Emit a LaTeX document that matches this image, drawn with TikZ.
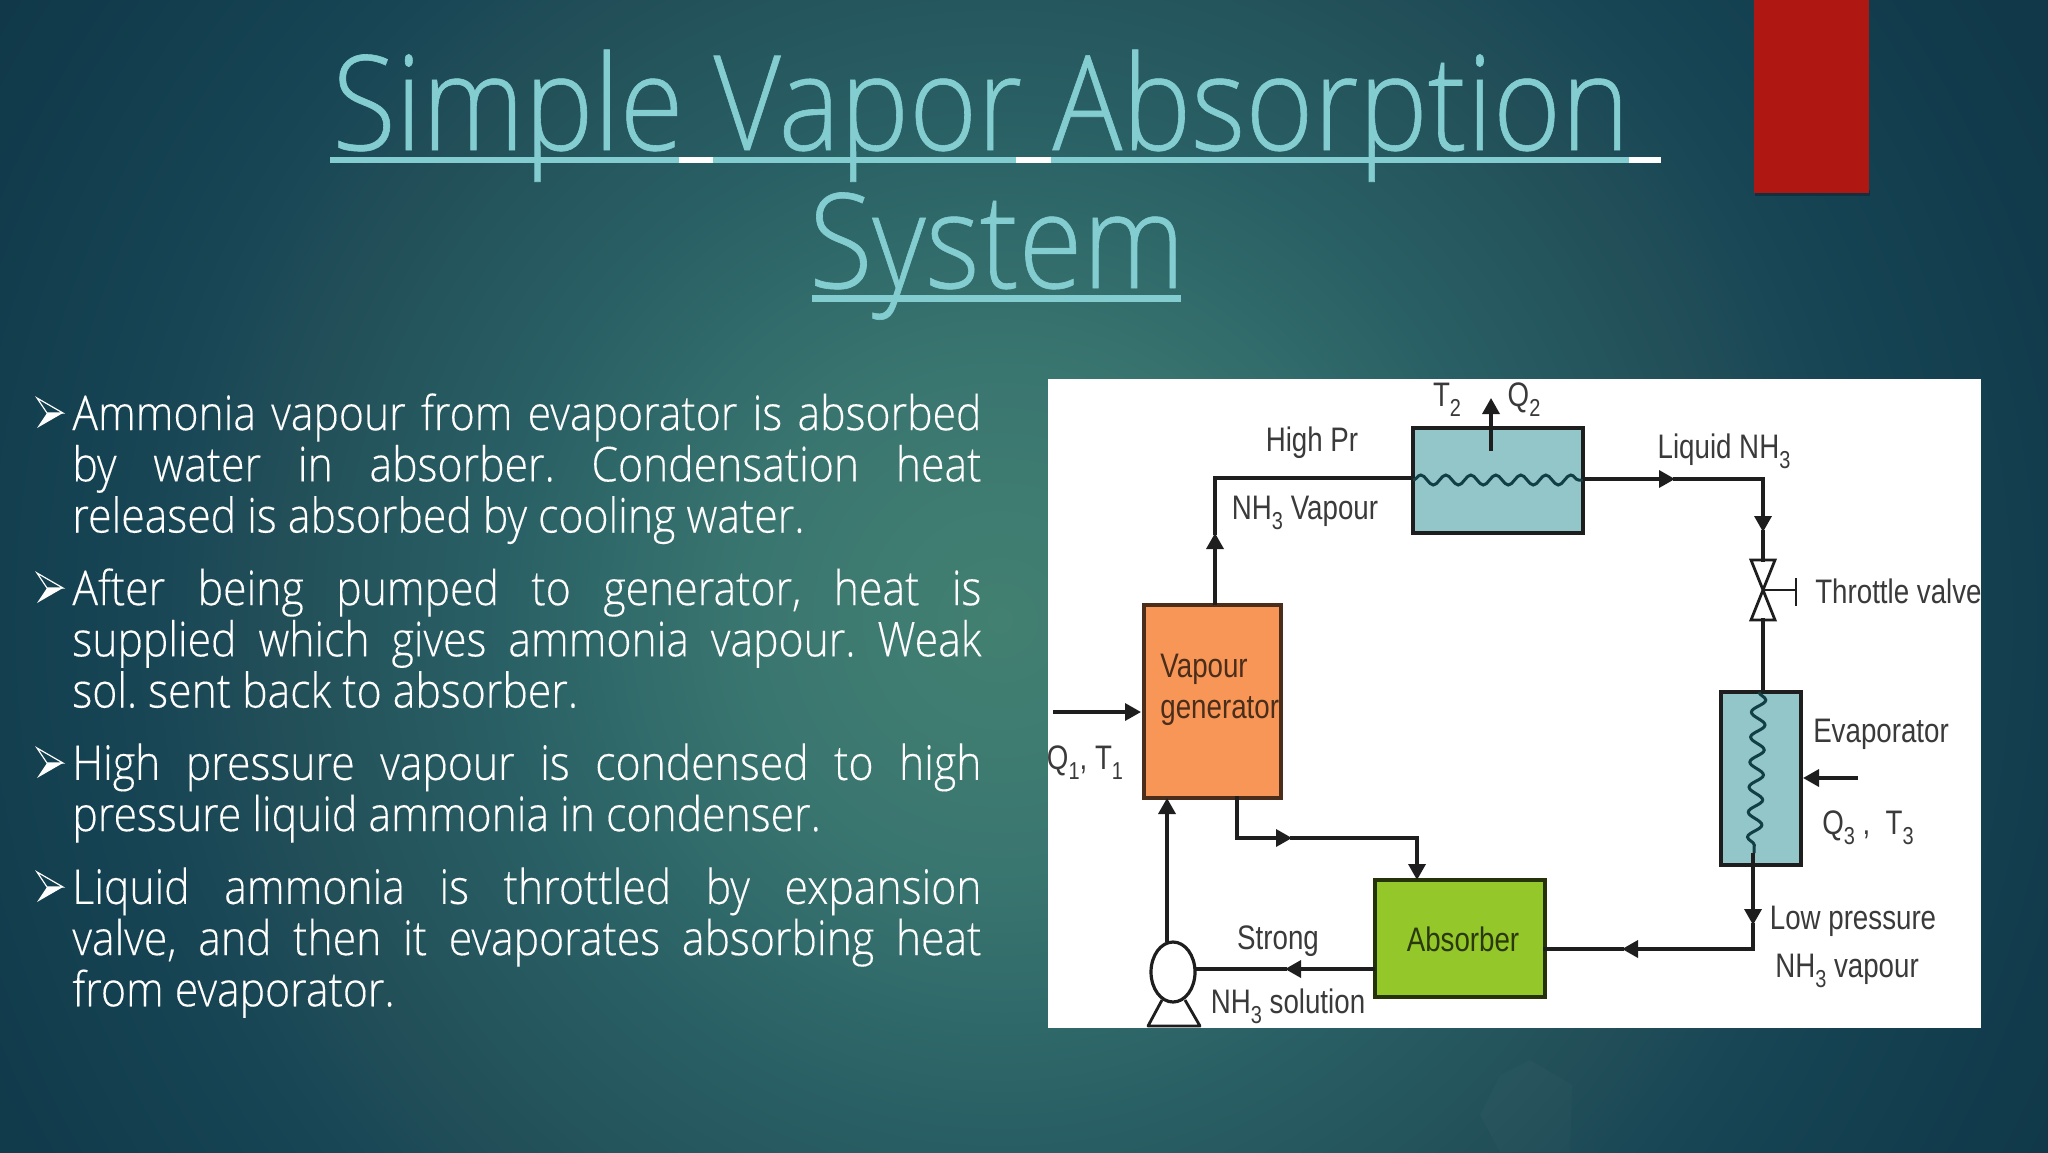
\documentclass[tikz,border=0pt]{standalone}
\usepackage{fontspec}
\usetikzlibrary{arrows.meta,decorations.pathmorphing,calc,shapes.geometric}
\newfontfamily\bodyfont{Open Sans Light}[FakeStretch=0.89,FakeBold=0.25]
\newfontfamily\titlefont{Open Sans Light}[FakeStretch=0.88,FakeBold=0.45]
\newfontfamily\labelfont{Liberation Sans}[FakeStretch=0.815]
\definecolor{bgA}{HTML}{428071}
\definecolor{bgB}{HTML}{3A7670}
\definecolor{bgC}{HTML}{296065}
\definecolor{bgD}{HTML}{224F58}
\definecolor{bgE}{HTML}{184655}
\definecolor{bgF}{HTML}{133F4F}
\definecolor{bgG}{HTML}{103849}
\definecolor{barshadow}{HTML}{123040}
\definecolor{titlecol}{HTML}{83CDD0}
\definecolor{redbar}{HTML}{AE1712}
\definecolor{tealbox}{HTML}{93C6C8}
\definecolor{orangebox}{HTML}{F79656}
\definecolor{greenbox}{HTML}{94C82A}
\definecolor{pipecol}{HTML}{1E1E1E}
\definecolor{coilcol}{HTML}{123F45}
\definecolor{labelcol}{HTML}{3A3A3A}
% radial shadings reach the path's edge at 25bp
\pgfdeclareradialshading{bgglow}{\pgfpoint{0bp}{0bp}}{color(0bp)=(bgA); color(5bp)=(bgB); color(10bp)=(bgC); color(14.4bp)=(bgD); color(17bp)=(bgE); color(20bp)=(bgF); color(23.4bp)=(bgG); color(50bp)=(bgG)}
\newcommand{\lowsub}[1]{\raisebox{-.3em}{\scalebox{.72}{#1}}}
\newcommand{\bulletshape}[2]{%
  \fill[white] (#1+10,#2) -- (#1+26,#2) -- (#1,#2+15) -- cycle;
  \draw[white,line width=.6pt,line join=miter] (#1,#2-15) -- (#1+26,#2) -- (#1+10,#2) -- cycle;}
\tikzset{
  unit box/.style={draw=#1,line width=1.8pt,inner sep=0pt,outer sep=0pt},
  plainlabel/.style={font=\labelfont\fontsize{17}{20}\selectfont,text=labelcol,inner sep=0pt,yshift=-1.5pt},
  unitlabel/.style={font=\labelfont\fontsize{17}{20}\selectfont,inner sep=0pt,yshift=-1.5pt},
  pipe/.style={draw=pipecol,line width=1.7pt,line cap=rect},
  flow/.style={draw=pipecol,line width=1.7pt,-{Triangle[length=8pt,width=8.5pt]}},
  coil/.style={draw=coilcol,line width=1.5pt,decorate,decoration={snake,amplitude=#1,segment length=12.5pt}},
  para/.style={font=\bodyfont\fontsize{24}{25.6}\selectfont,text=white,text width=454.5pt,align=justify,inner sep=0pt,anchor=north west},
  titleline/.style={font=\titlefont\fontsize{66}{70}\selectfont,text=titlecol,inner sep=0pt,anchor=base},
}
\frenchspacing
\begin{document}
\begin{tikzpicture}[x=0.5pt,y=-0.5pt]
\useasboundingbox (0,0) rectangle (2048,1152);
\begin{scope}
\clip (0,0) rectangle (2048,1152);
\shade[shading=bgglow] (1000,620) circle (1250);
\fill[white,opacity=.018] (1530,1060) -- (1572,1085) -- (1570,1152) -- (1500,1152) -- (1480,1115) -- (1500,1075) -- cycle;
\end{scope}
% red bar
\fill[barshadow] (1755,190) rectangle (1870,196);
\fill[redbar] (1754,0) rectangle (1869,193);
% title underlines
\fill[titlecol] (330,157) rectangle (679,163);
\fill[white] (679,157) rectangle (713,163);
\fill[titlecol] (713,157) rectangle (1016,163);
\fill[white] (1016,157) rectangle (1051,163);
\fill[titlecol] (1051,157) rectangle (1629,163);
\fill[white] (1629,157) rectangle (1661,163);
\fill[titlecol] (812,295) rectangle (1181,302);
\node[titleline] (title1) at (981,150) {Simple Vapor Absorption};
\node[titleline] (title2) at (997,288) {System};
% bullets
\bulletshape{37}{413}
\bulletshape{37}{588}
\bulletshape{37}{763}
\bulletshape{37}{887}
\node[para] (p1) at (72,393) {Ammonia vapour from evaporator is absorbed\linebreak by water in absorber. Condensation heat\linebreak released is absorbed by cooling water.};
\node[para] (p2) at (72,568) {After being pumped to generator, heat is\linebreak supplied which gives ammonia vapour. Weak\linebreak sol. sent back to absorber.};
\node[para] (p3) at (72,743) {High pressure vapour is condensed to high\linebreak pressure liquid ammonia in condenser.};
\node[para] (p4) at (72,867) {Liquid ammonia is throttled by expansion\linebreak valve, and then it evaporates absorbing heat\linebreak from evaporator.};
% panel
\fill[white] (1048,379) rectangle (1981,1028);
% units
\node[unit box=pipecol,fill=tealbox,minimum width=85pt,minimum height=52.5pt] (cond) at (1498,480.5) {};
\node[unit box=black!70!orangebox,fill=orangebox,minimum width=68.5pt,minimum height=96.5pt] (gen) at (1212.5,701.5) {};
\node[unit box=pipecol,fill=tealbox,minimum width=40pt,minimum height=86.5pt] (evap) at (1761,778.5) {};
\node[unit box=black!75!greenbox,fill=greenbox,minimum width=85pt,minimum height=58.5pt] (abs) at (1460,938.5) {};
\node[draw=pipecol,line width=1.6pt,fill=white,ellipse,minimum width=22pt,minimum height=30pt,inner sep=0pt] (pump) at (1173,972) {};
% unit labels
\node[unitlabel,text=black!70!orangebox,anchor=west] (t1) at (1160,666) {Vapour};
\node[unitlabel,text=black!70!orangebox,anchor=west] (t2) at (1160,708) {generator};
\node[unitlabel,text=black!72!greenbox] (t3) at (1463,936) {Absorber};
% coordinates
\coordinate (a1) at (1215,533);
\coordinate (c1) at (1215,478);
\coordinate (coilL) at (1413,480);
\coordinate (coilR) at (1583,480);
\coordinate (q2a) at (1491,451);
\coordinate (q2b) at (1491,398);
\coordinate (a2) at (1675,479);
\coordinate (c2) at (1763,479);
\coordinate (a3) at (1763,532);
\coordinate (vtop) at (1763,560);
\coordinate (vmid) at (1763,590);
\coordinate (vbot) at (1763,620);
\coordinate (ecoilT) at (1759,692);
\coordinate (ecoilB) at (1754,853);
\coordinate (a4) at (1753,925);
\coordinate (c3) at (1753,949);
\coordinate (a5) at (1622,949);
\coordinate (a6) at (1292,838);
\coordinate (c4) at (1237,838);
\coordinate (c5) at (1417,838);
\coordinate (a7) at (1417,880);
\coordinate (a8) at (1285,969);
\coordinate (q1a) at (1053,712);
\coordinate (q1b) at (1141,712);
\coordinate (q3a) at (1858,778);
\coordinate (q3b) at (1803,778);
\coordinate (pumpup) at (1167,942);
% connectors
\draw[flow] (gen.north -| a1) -- (a1);
\draw[pipe] (a1) -- (c1) -- (c1 -| cond.west);
\draw[coil=2.5pt] (coilL) -- (coilR);
\draw[flow] (q2a) -- (q2b);
\draw[flow] (cond.east |- a2) -- (a2);
\draw[pipe] (a2) -- (c2);
\draw[flow] (c2) -- (a3);
\draw[pipe] (a3) -- (vtop);
\draw[draw=pipecol,line width=1.4pt] (1751,560) -- (1775,560) -- (1751,620) -- (1775,620) -- cycle;
\draw[draw=pipecol,line width=1.4pt] (vmid) -- (1796,590);
\draw[draw=pipecol,line width=1.4pt] (1796,578) -- (1796,606);
\draw[pipe] (vbot) -- (c2 |- evap.north);
\draw[coil=3.5pt] (ecoilT) -- (ecoilB);
\draw[flow] (ecoilB -| c3) -- (a4);
\draw[pipe] (a4) -- (c3);
\draw[flow] (c3) -- (a5);
\draw[pipe] (a5) -- (abs.east |- a5);
\draw[pipe] (c4 |- gen.south) -- (c4);
\draw[flow] (c4) -- (a6);
\draw[pipe] (a6) -- (c5);
\draw[flow] (c5) -- (a7);
\draw[flow] (abs.west |- a8) -- (a8);
\draw[pipe] (a8) -- (pump.east |- a8);
\draw[flow] (pumpup) -- (pumpup |- gen.south);
\draw[flow] (q1a) -- (q1b);
\draw[flow] (q3a) -- (q3b);
\draw[draw=pipecol,line width=1.4pt,line join=round] (1162,1000) -- (1148,1026) -- (1200,1026) -- (1185,1000);
% labels
\node[plainlabel] (l1) at (1447,397) {T\lowsub{2}};
\node[plainlabel] (l2) at (1524,397) {Q\lowsub{2}};
\node[plainlabel] (l3) at (1312,440) {High Pr};
\node[plainlabel] (l4) at (1305,510) {NH\lowsub{3} Vapour};
\node[plainlabel] (l5) at (1724,448) {Liquid NH\lowsub{3}};
\node[plainlabel,anchor=east] (l6) at (1982,588) {Throttle valve};
\node[plainlabel] (l7) at (1881,731) {Evaporator};
\node[plainlabel] (l8) at (1868,825) {Q\lowsub{3} ,\ \ T\lowsub{3}};
\node[plainlabel] (l9) at (1853,918) {Low pressure};
\node[plainlabel] (l10) at (1847,968) {NH\lowsub{3} vapour};
\node[plainlabel] (l11) at (1278,938) {Strong};
\node[plainlabel] (l12) at (1288,1003) {NH\lowsub{3} solution};
\node[plainlabel] (l13) at (1085,760) {Q\lowsub{1}, T\lowsub{1}};
\end{tikzpicture}
\end{document}
